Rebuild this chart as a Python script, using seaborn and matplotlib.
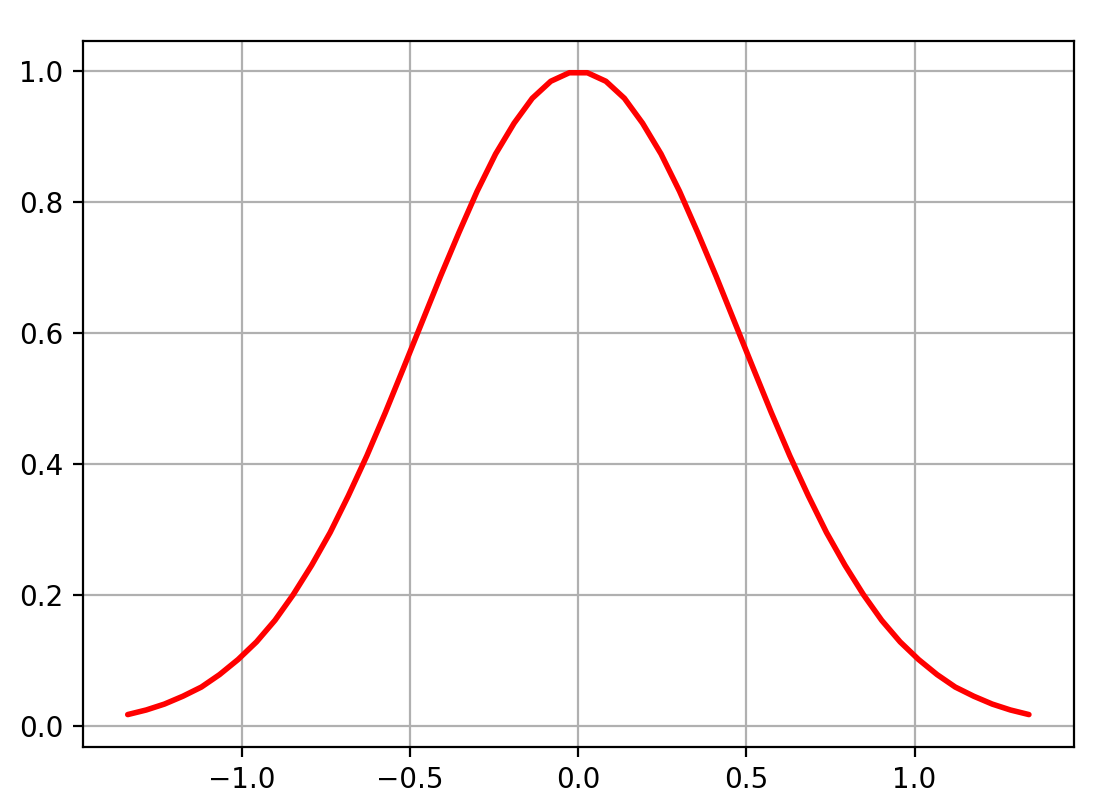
import matplotlib
matplotlib.use('Agg')
import matplotlib.pyplot as plt
import seaborn as sns

# Valores (curva en forma de campana).
x_izq = [-1.340, -1.285, -1.231, -1.176, -1.121, -1.067, -1.012, -0.957, -0.902, -0.848,
         -0.793, -0.738, -0.684, -0.629, -0.574, -0.520, -0.465, -0.410, -0.355, -0.301,
         -0.246, -0.191, -0.137, -0.082, -0.027]
y_izq = [0.018, 0.025, 0.034, 0.046, 0.060, 0.079, 0.102, 0.129, 0.162, 0.201,
         0.246, 0.296, 0.352, 0.413, 0.479, 0.547, 0.617, 0.687, 0.754, 0.817,
         0.874, 0.921, 0.959, 0.985, 0.998]

x_der = [0.027, 0.082, 0.137, 0.191, 0.246, 0.301, 0.355, 0.410, 0.465, 0.520,
         0.574, 0.629, 0.684, 0.738, 0.793, 0.848, 0.902, 0.957, 1.012, 1.067,
         1.121, 1.176, 1.231, 1.285, 1.340]
y_der = [0.998, 0.985, 0.959, 0.921, 0.874, 0.817, 0.754, 0.687, 0.617, 0.547,
         0.479, 0.413, 0.352, 0.296, 0.246, 0.201, 0.162, 0.129, 0.102, 0.079,
         0.060, 0.046, 0.034, 0.025, 0.018]

x = x_izq + x_der
y = y_izq + y_der

sns.set_style('ticks')
plt.rcParams['font.family'] = ['DejaVu Sans']

fig, ax = plt.subplots(figsize = (5.54, 4.01), dpi = 200)
sns.lineplot(x = x, y = y, color = 'red', linewidth = 2, sort = False, ax = ax)
ax.grid(True, color = '#b0b0b0', linewidth = 0.8)
ax.set_axisbelow(True)
for s in ax.spines.values():
    s.set_color('black')
    s.set_linewidth(0.8)
ax.tick_params(colors = 'black', labelsize = 10, length = 3.5, width = 0.8)
ax.set_xticks([-1.0, -0.5, 0.0, 0.5, 1.0])
ax.set_yticks([0.0, 0.2, 0.4, 0.6, 0.8, 1.0])
ax.margins(x = 0.05, y = 0.05)

fig.subplots_adjust(left = 0.0746, right = 0.9693, top = 0.9493, bottom = 0.069)
fig.savefig('out.png', dpi = 200)
